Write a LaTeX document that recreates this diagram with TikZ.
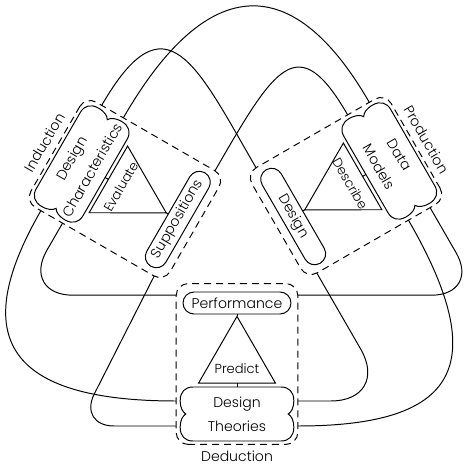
\documentclass[tikz,border=0pt]{standalone}
\usepackage{fontspec}
\setmainfont{Poppins Light}
\tikzset{
  dashbox/.style={dash pattern=on 5pt off 3.5pt, rounded corners=0.3cm},
  pill/.style={draw, rounded corners=0.275cm, minimum width=2.7cm,
    minimum height=0.55cm, inner sep=0pt},
  lobes/.style={align=center, inner sep=0pt},
  tri/.style={inner sep=1pt, font=\fontsize{9.3}{11}\selectfont}
}
\begin{document}
\begin{tikzpicture}[line width=0.7pt, font=\fontsize{10}{17}\selectfont]
    \useasboundingbox (0,0) rectangle (11.85,11.85);

    % Define the two-lobed cloud, the triangle and the frame of one module
    \def\cloudA{(-1.1,-0.575) -- (1.1,-0.575)
      .. controls (1.3,-0.575) and (1.42,-0.7) .. (1.42,-0.9125)
      .. controls (1.42,-1.1) and (1.36,-1.2) .. (1.28,-1.25)
      .. controls (1.36,-1.3) and (1.42,-1.4) .. (1.42,-1.5875)
      .. controls (1.42,-1.8) and (1.3,-1.925) .. (1.1,-1.925)
      -- (-1.1,-1.925)
      .. controls (-1.3,-1.925) and (-1.42,-1.8) .. (-1.42,-1.5875)
      .. controls (-1.42,-1.4) and (-1.36,-1.3) .. (-1.28,-1.25)
      .. controls (-1.36,-1.2) and (-1.42,-1.1) .. (-1.42,-0.9125)
      .. controls (-1.42,-0.7) and (-1.3,-0.575) .. cycle}
    \def\triangleA{(0,1.19) -- (0.9625,-0.48) -- (-0.9625,-0.48) -- cycle}
    \def\frameA{(-1.52,-2.01) -- (1.52,-2.01) -- (1.52,2.01) -- (-1.52,2.01) -- cycle}
    \def\ticksA{(0,1.19) -- (0,1.25) (0,-0.48) -- (0,-0.575)}

    % Deduction module (bottom)
    \begin{scope}[shift={(5.925,2.75)}]
        \draw[dashbox] \frameA;
        \draw \triangleA;
        \draw \ticksA;
        \draw \cloudA;
        \node[pill] (ded-pill) at (0,1.525) {Performance};
        \node[tri] (ded-tri) at (0,-0.12) {Predict};
        \node[lobes] (ded-cloud) at (0,-1.25) {Design\\Theories};
        \node (ded-tag) at (0,-2.3) {Deduction};
        \coordinate (ded-pl) at (-1.52,1.72);
        \coordinate (ded-pr) at (1.52,1.72);
        \coordinate (ded-il) at (-1.52,-0.925);
        \coordinate (ded-ir) at (1.52,-0.925);
        \coordinate (ded-ol) at (-1.52,-1.55);
        \coordinate (ded-or) at (1.52,-1.55);
    \end{scope}

    % Induction module (upper left)
    \begin{scope}[shift={(3.125,7.125)}, rotate=240]
        \draw[dashbox] \frameA;
        \draw \triangleA;
        \draw \ticksA;
        \draw \cloudA;
        \node[pill, rotate=60] (ind-pill) at (0,1.525) {Suppositions};
        \node[tri, rotate=60] (ind-tri) at (0,-0.12) {Evaluate};
        \node[lobes, rotate=60] (ind-cloud) at (0,-1.25) {Design\\Characteristics};
        \node[rotate=60] (ind-tag) at (0,-2.32) {Induction};
        \coordinate (ind-pl) at (-1.52,1.72);
        \coordinate (ind-pr) at (1.52,1.72);
        \coordinate (ind-il) at (-1.52,-0.925);
        \coordinate (ind-ir) at (1.52,-0.925);
        \coordinate (ind-ol) at (-1.52,-1.55);
        \coordinate (ind-or) at (1.52,-1.55);
    \end{scope}

    % Production module (upper right)
    \begin{scope}[shift={(8.65,7.2)}, rotate=120]
        \draw[dashbox] \frameA;
        \draw \triangleA;
        \draw \ticksA;
        \draw \cloudA;
        \node[pill, rotate=-60] (pro-pill) at (0,1.525) {Design};
        \node[tri, rotate=-60] (pro-tri) at (0,-0.12) {Describe};
        \node[lobes, rotate=-60] (pro-cloud) at (0,-1.25) {Data\\Models};
        \node[rotate=-60] (pro-tag) at (0,-2.32) {Production};
        \coordinate (pro-pl) at (-1.52,1.72);
        \coordinate (pro-pr) at (1.52,1.72);
        \coordinate (pro-il) at (-1.52,-0.925);
        \coordinate (pro-ir) at (1.52,-0.925);
        \coordinate (pro-ol) at (-1.52,-1.55);
        \coordinate (pro-or) at (1.52,-1.55);
    \end{scope}

    % Turning points of the tight loops
    \coordinate (turn-sw) at (1.95,1.2);
    \coordinate (turn-w) at (0.524,4.47);
    \coordinate (turn-se) at (9.767,1.825);
    \coordinate (turn-e) at (12.016,4.47);

    % Loops from cloud lobes to the pills of the neighbours
    \draw[rounded corners=0.9cm] (ded-ol) -- (turn-sw) -- (ind-pr);
    \draw[rounded corners=1.5cm] (ded-ir) -- (turn-se) -- (pro-pl);
    \draw[rounded corners=1.3cm] (ind-ir) -- (turn-w) -- (ded-pl);
    \draw[rounded corners=1.23cm] (pro-ol) -- (turn-e) -- (ded-pr);
    \draw (ind-ol) .. controls +(60:3.2) and +(120:3) .. (pro-pr);
    \draw (pro-ir) .. controls +(120:2.5) and +(60:3) .. (ind-pl);

    % Outer arcs from cloud to cloud
    \draw (ded-il) .. controls +(180:4.2) and +(240:3.7) .. (ind-or);
    \draw (ind-il) .. controls +(60:4) and +(120:4) .. (pro-or);
    \draw (pro-il) .. controls +(300:4.2) and +(0:4) .. (ded-or);
\end{tikzpicture}
\end{document}
